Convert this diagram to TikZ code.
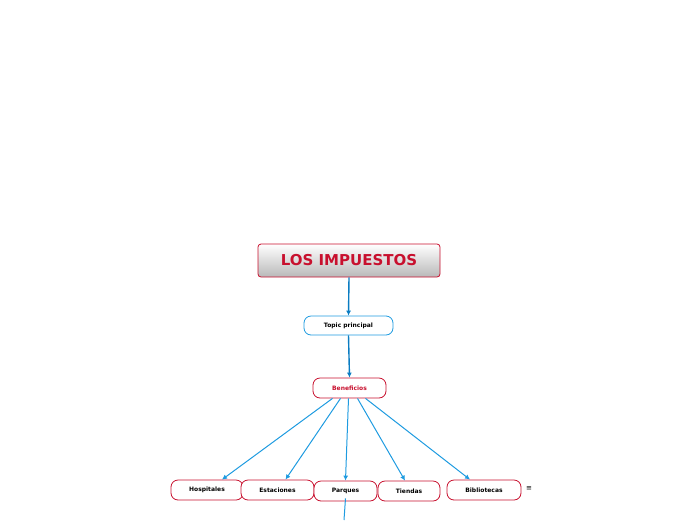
\documentclass[tikz,border=0pt]{standalone}
\usepackage{fontspec}
\setmainfont{DejaVu Sans}
\usetikzlibrary{arrows.meta}
\definecolor{crim}{HTML}{C8102E}
\definecolor{bl}{HTML}{1E9BE0}
\definecolor{dbl}{HTML}{0A7CC2}
\begin{document}
\begin{tikzpicture}[x=1pt,y=-1pt,
 box/.style={draw=crim,line width=0.8pt,rounded corners=7pt,fill=white,inner sep=0pt,font=\bfseries\fontsize{6}{7}\selectfont},
 arr/.style={draw=bl,line width=1pt,-{Latex[length=5pt,width=5pt]}},
 darr/.style={draw=dbl,line width=1.4pt,-{Latex[length=5pt,width=5pt]}}]
\useasboundingbox (0,0) rectangle (696,520);
\node[draw=crim,line width=0.8pt,rounded corners=3pt,top color=white,bottom color=gray!55,minimum width=182pt,minimum height=33pt,inner sep=0pt,text=crim,font=\bfseries\fontsize{15}{17}\selectfont] (t) at (349,260.5) {LOS IMPUESTOS};
\node[box,draw=bl,minimum width=89pt,minimum height=19pt] (tp) at (348.5,325.5) {Topic principal};
\node[box,text=crim,minimum width=73pt,minimum height=20pt] (b) at (349.5,388) {Beneficios};
\node[box,minimum width=72pt,minimum height=20pt] (h) at (207,490) {Hospitales};
\node[box,minimum width=73pt,minimum height=20pt] (e) at (277.5,490) {Estaciones};
\node[box,minimum width=63pt,minimum height=20pt] (p) at (345.5,491) {Parques};
\node[box,minimum width=62pt,minimum height=20pt] (ti) at (409,491) {Tiendas};
\node[box,minimum width=74pt,minimum height=20pt] (bi) at (484,490) {Bibliotecas};
\node[font=\fontsize{7}{8}\selectfont] (m) at (529,489) {≡};
\coordinate (pe) at (344,520);
\draw[darr] (t.south) -- (tp.north);
\draw[darr] (tp.south) -- (b.north);
\draw[arr] ([xshift=-17pt]b.south) -- ([xshift=15pt]h.north);
\draw[arr] ([xshift=-9pt]b.south) -- ([xshift=8pt]e.north);
\draw[arr] ([xshift=-1pt]b.south) -- (p.north);
\draw[arr] ([xshift=8pt]b.south) -- ([xshift=-4pt]ti.north);
\draw[arr] ([xshift=16pt]b.south) -- ([xshift=-14pt]bi.north);
\draw[bl,line width=1pt] ([yshift=3pt]p.south) -- (pe);
\end{tikzpicture}
\end{document}
